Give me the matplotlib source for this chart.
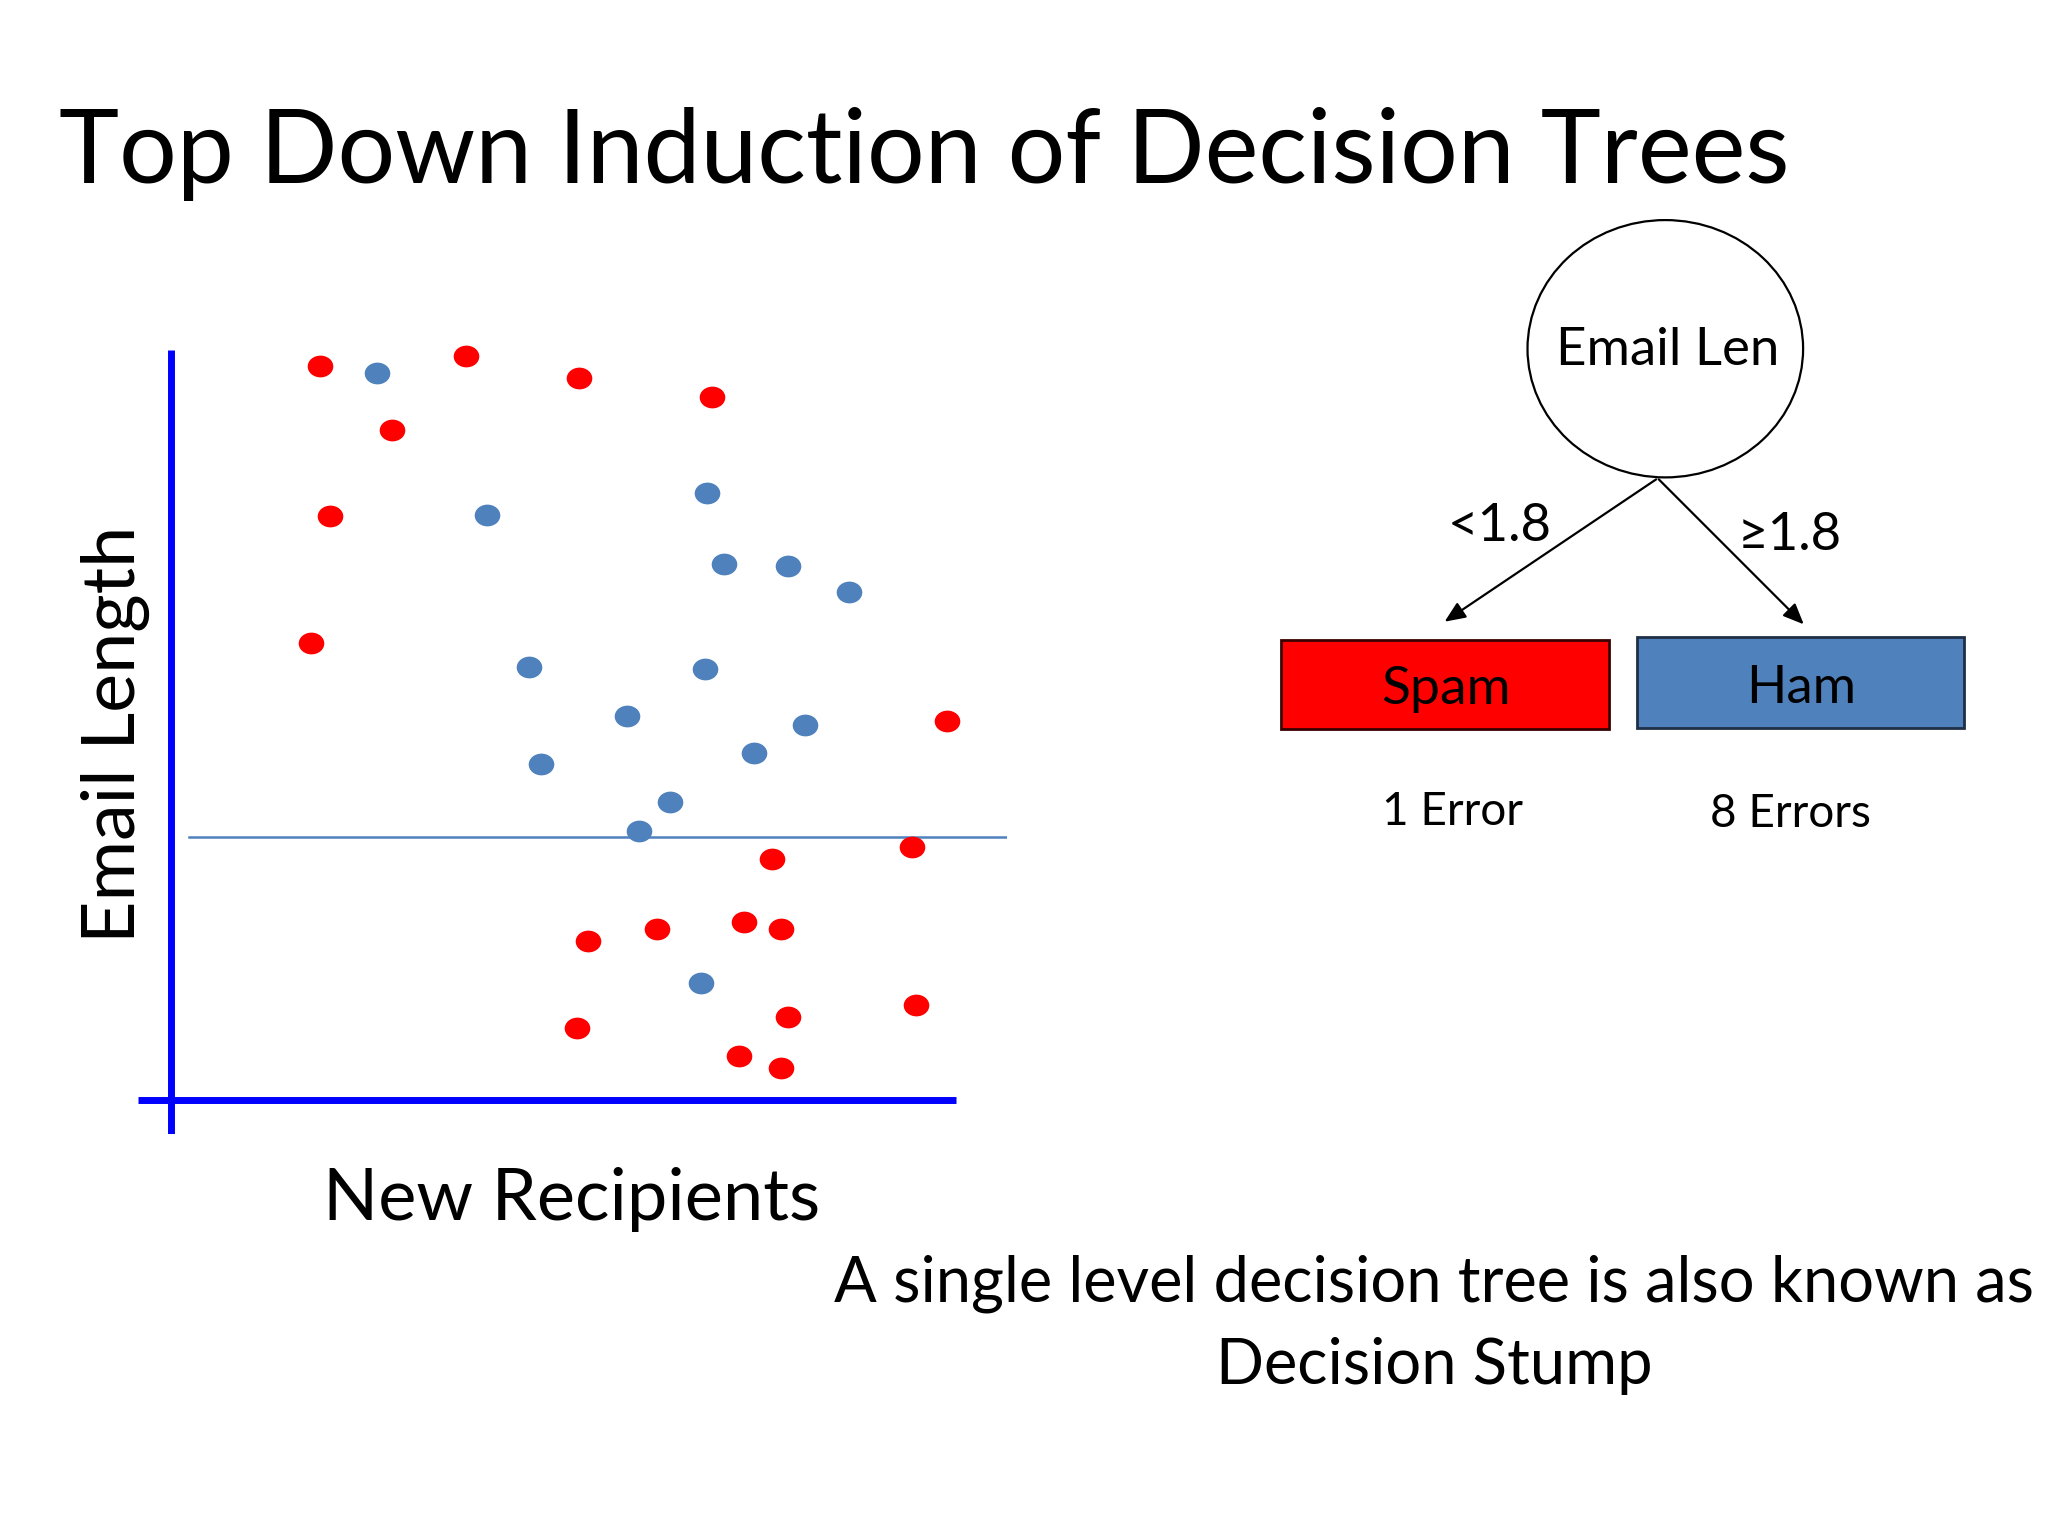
import matplotlib
matplotlib.use("Agg")
import matplotlib.pyplot as plt
from matplotlib.patches import Ellipse, Rectangle
from matplotlib.path import Path
import numpy as np

# ---------------- data ----------------
spam_recipients = [1.14, 2.26, 3.12, 4.14, 1.69, 1.22, 1.07, 5.94, 4.60, 5.67,
                   3.19, 3.72, 4.39, 4.67, 4.72, 3.11, 5.70, 4.35, 4.67]
spam_length = [5.03, 5.10, 4.95, 4.82, 4.59, 4.00, 3.13, 2.60, 1.65, 1.73,
               1.09, 1.17, 1.22, 1.17, 0.57, 0.49, 0.65, 0.30, 0.22]
ham_recipients = [1.58, 2.42, 4.10, 4.23, 4.72, 5.19, 2.74, 4.09, 3.49, 4.85,
                  4.46, 2.83, 3.82, 3.58, 4.06]
ham_length = [4.98, 4.01, 4.16, 3.67, 3.66, 3.48, 2.97, 2.95, 2.63, 2.57,
              2.38, 2.30, 2.04, 1.84, 0.80]
split_value = 1.8
title = "Top Down Induction of Decision Trees"
x_label = "New Recipients"
y_label = "Email Length"
root_label = "Email Len"
branch_labels = ["<1.8", "\u22651.8"]
leaf_labels = ["Spam", "Ham"]
leaf_errors = ["1 Error", "8 Errors"]
caption = ["A single level decision tree is also known as", "Decision Stump"]

RED = "#FF0000"
BLUE = "#4F81BD"
FONT = ["Lato", "DejaVu Sans"]

W, H = 1568.0, 1176.0  # layout reference units
fig = plt.figure(figsize=(20.48, 15.36), dpi=100)
fig.patch.set_facecolor("white")

# overlay axes in layout units
ov = fig.add_axes([0, 0, 1, 1])
ov.set_xlim(0, W)
ov.set_ylim(H, 0)
ov.axis("off")

# ---------------- scatter panel ----------------
def fx(px):
    return px / W

def fyb(py):
    return 1 - py / H

left, right, top, bottom = 106, 771, 268, 868
ax = fig.add_axes([fx(left), fyb(bottom), fx(right) - fx(left), (bottom - top) / H])
ax.set_xlim(-0.25, 6.40)
ax.set_ylim(-0.233, 5.14)
ax.axis("off")

ell = Path.unit_circle()
ell = Path(ell.vertices * np.array([1.0, 0.85]), ell.codes)

ax.plot([0, 0], [-0.233, 5.14], color="#0000FF", lw=5, solid_capstyle="butt")
ax.plot([-0.25, 6.01], [0, 0], color="#0000FF", lw=5, solid_capstyle="butt")
ax.plot([0.14, 6.40], [split_value, split_value], color=BLUE, lw=1.8)

ax.scatter(spam_recipients, spam_length, marker=ell, s=340, color=RED, linewidths=0,
           zorder=3, clip_on=False)
ax.scatter(ham_recipients, ham_length, marker=ell, s=340, color=BLUE, linewidths=0,
           zorder=3, clip_on=False)

ov.text(45, 140, title, fontsize=73.4, family=FONT, ha="left", va="baseline")
ov.text(438, 918, x_label, fontsize=52, family=FONT, ha="center", va="center")
ov.text(88, 562, y_label, fontsize=53, family=FONT, ha="center", va="center", rotation=90)

# ---------------- tree ----------------
ov.add_patch(Ellipse((1275, 267), 211, 197, facecolor="white", edgecolor="black", lw=1.6))
ov.text(1277, 268, root_label, fontsize=38, family=FONT, ha="center", va="center")

arrow_kw = dict(arrowstyle="-|>,head_length=0.7,head_width=0.3", color="black", lw=1.6,
                shrinkA=0, shrinkB=0, mutation_scale=18)
ov.annotate("", xy=(1106, 476), xytext=(1268, 367), arrowprops=arrow_kw)
ov.annotate("", xy=(1381, 478), xytext=(1270, 367), arrowprops=arrow_kw)
ov.text(1148, 403, branch_labels[0], fontsize=38, family=FONT, ha="center", va="center")
ov.text(1370, 410, branch_labels[1], fontsize=38, family=FONT, ha="center", va="center")

ov.add_patch(Rectangle((981, 490), 251, 68, facecolor=RED, edgecolor="#3A0000", lw=2))
ov.add_patch(Rectangle((1253, 488), 251, 69, facecolor=BLUE, edgecolor="#1F2F45", lw=2))
ov.text(1107, 528, leaf_labels[0], fontsize=38.5, family=FONT, ha="center", va="center")
ov.text(1379, 527, leaf_labels[1], fontsize=38, family=FONT, ha="center", va="center")
ov.text(1112, 622, leaf_errors[0], fontsize=33, family=FONT, ha="center", va="center")
ov.text(1371, 623, leaf_errors[1], fontsize=33, family=FONT, ha="center", va="center")

ov.text(1098, 983, caption[0], fontsize=45.5, family=FONT, ha="center", va="center")
ov.text(1098, 1046, caption[1], fontsize=45.5, family=FONT, ha="center", va="center")

fig.savefig("out.png", dpi=100)
